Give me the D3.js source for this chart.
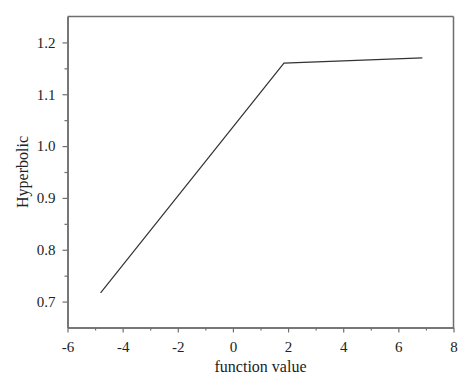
<!DOCTYPE html>
<html><head><meta charset="utf-8">
<script src="https://cdn.jsdelivr.net/npm/d3@7"></script>
<style>body{margin:0;background:#fff}svg{display:block}</style>
</head><body>
<svg id="c" width="474" height="389"></svg>
<script>
const xValues = [-4.8, 1.85, 6.87];
const yValues = [0.717, 1.160, 1.170];
const xTicks = [-6, -4, -2, 0, 2, 4, 6, 8];
const yTicks = [0.7, 0.8, 0.9, 1.0, 1.1, 1.2];
const xLabel = "function value";
const yLabel = "Hyperbolic";

const svg = d3.select("#c");
const L = 67.5, R = 453.5, T = 16.5, B = 327.5;
const x = d3.scaleLinear().domain([-6, 8]).range([L, R]);
const y = d3.scaleLinear().domain([0.65, 1.25]).range([B, T]);
const font = "'Liberation Serif', 'DejaVu Serif', serif";
const axisColor = "#6e6e6e";

const xMinor = d3.range(-5, 8, 2);
const yMinor = [0.75, 0.85, 0.95, 1.05, 1.15];

const gx = svg.append("g").attr("transform", `translate(0,${B})`)
  .call(d3.axisBottom(x).tickValues(xTicks).tickFormat(d => String(d)).tickSize(5).tickPadding(9).tickSizeOuter(0));
const gxm = svg.append("g").attr("transform", `translate(0,${B})`)
  .call(d3.axisBottom(x).tickValues(xMinor).tickFormat("").tickSize(3).tickSizeOuter(0));
const gy = svg.append("g").attr("transform", `translate(${L},0)`)
  .call(d3.axisLeft(y).tickValues(yTicks).tickFormat(d => d.toFixed(1)).tickSize(5).tickPadding(7).tickSizeOuter(0));
const gym = svg.append("g").attr("transform", `translate(${L},0)`)
  .call(d3.axisLeft(y).tickValues(yMinor).tickFormat("").tickSize(3).tickSizeOuter(0));

[gx, gxm, gy, gym].forEach(g => {
  g.select(".domain").attr("stroke", axisColor).attr("stroke-width", 1.5);
  g.selectAll(".tick line").attr("stroke", axisColor).attr("stroke-width", 1.2);
  g.selectAll(".tick text").attr("fill", "#222").style("font-family", font).style("font-size", "15px");
});

svg.append("line").attr("x1", L).attr("x2", R).attr("y1", T).attr("y2", T)
  .attr("stroke", axisColor).attr("stroke-width", 1.5);
svg.append("line").attr("x1", R).attr("x2", R).attr("y1", T).attr("y2", B)
  .attr("stroke", axisColor).attr("stroke-width", 1.5);

const data = xValues.map((v, i) => [v, yValues[i]]);
svg.append("path").datum(data)
  .attr("fill", "none").attr("stroke", "#333").attr("stroke-width", 1.2)
  .attr("d", d3.line().x(d => x(d[0])).y(d => y(d[1])));

svg.append("text").attr("x", (L + R) / 2).attr("y", 372)
  .attr("text-anchor", "middle").attr("fill", "#222")
  .style("font-family", font).style("font-size", "16px").text(xLabel);
svg.append("text").attr("transform", `translate(28,${(T + B) / 2}) rotate(-90)`)
  .attr("text-anchor", "middle").attr("fill", "#222")
  .style("font-family", font).style("font-size", "16px").text(yLabel);
</script>
</body></html>
